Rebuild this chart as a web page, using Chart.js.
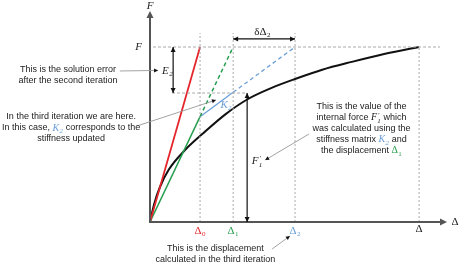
<!DOCTYPE html>
<html>
<head>
<meta charset="utf-8">
<script src="https://cdn.jsdelivr.net/npm/chart.js@4.4.0/dist/chart.umd.min.js"></script>
<style>body{margin:0;background:#fff}</style>
</head>
<body>
<canvas id="chart" width="474" height="267"></canvas>
<script>
// displacement levels on the x axis: Δ0, Δ1, Δ2, Δ
var deltaSubs = ['0', '1', '2', '']
var deltaValues = [0.186, 0.309, 0.539, 1.0]
var guideTops = [1.08, 1.08, 1.08, 1.0]
// force levels on the y axis
var forceF = 1.0
var forceF1 = 0.737

// load-displacement curve
var curveX = [0, 0.015, 0.037, 0.07, 0.1275, 0.2, 0.28, 0.361, 0.45, 0.539, 0.64, 0.75, 0.87, 1.0]
var curveY = [0, 0.10, 0.20, 0.30, 0.407, 0.51, 0.615, 0.70, 0.765, 0.817, 0.87, 0.915, 0.96, 1.0]

// stiffness lines
var k0Line = [[0, 0], [0.186, 1.0]]
var k1Solid = [[0, 0], [0.186, 0.602]]
var k1Dash = [[0.186, 0.602], [0.309, 1.0]]
var k2Solid = [[0.186, 0.602], [0.309, 0.741]]
var k2Dash = [[0.309, 0.741], [0.539, 1.0]]

// double headed dimension arrows
var dimArrows = [
  [[0.086, 1.0], [0.086, 0.737]],
  [[0.361, 0.737], [0.361, 0]],
  [[0.309, 1.046], [0.539, 1.046]]
]
// thin callout arrows (head at second point)
var callouts = [
  [[-0.112, 0.863], [0.030, 0.866]],
  [[-0.048, 0.549], [0.245, 0.697]],
  [[0.591, 0.503], [0.428, 0.354]],
  [[0.454, -0.154], [0.520, -0.08]]
]

var RED = 'rgb(228,38,44)'
var GREEN = 'rgb(38,158,80)'
var BLUE = 'rgb(108,160,216)'
var GUIDE = '#aaa'

var K2 = {b: 'K', s: '2', c: BLUE, it: true}
var D1 = {b: 'Δ', s: '1', c: GREEN}
var F1p = {b: 'F', s: '1', p: true, c: '#222', it: true}

var notes = [
  {x: -0.305, y: 0.874, lines: [['This is the solution error'], ['after the second iteration']]},
  {x: -0.293, y: 0.6, lines: [['In the third iteration we are here.'], ['In this case, ', K2, ' corresponds to the'], ['stiffness updated']]},
  {x: 0.786, y: 0.658, lines: [['This is the value of the'], ['internal force ', F1p, ' which'], ['was calculated using the'], ['stiffness matrix ', K2, ' and'], ['the displacement ', D1]]},
  {x: 0.243, y: -0.149, lines: [['This is the displacement'], ['calculated in the third iteration']]}
]
var mathLabels = [
  {x: 0.045, y: 0.863, m: {b: 'E', s: '2', c: '#222', it: true}, align: 'left'},
  {x: 0.283, y: 0.669, m: K2, align: 'center'},
  {x: 0.398, y: 0.346, m: F1p, align: 'center'},
  {x: -0.03, y: forceF, m: {b: 'F', s: '', c: '#222', it: true}, align: 'right'},
  {x: 0, y: 1.234, m: {b: 'F', s: '', c: '#222', it: true}, align: 'center'},
  {x: 1.12, y: 0, m: {b: 'Δ', s: '', c: '#222'}, align: 'left'},
  {x: 0.418, y: 1.086, m: {b: 'δΔ', s: '2', c: '#222'}, align: 'center'}
]

var BODY = '9px "Liberation Sans"'
var SERIF = '"Liberation Serif"'

function pts(arr) {
  return arr.map(function (p) { return {x: p[0], y: p[1]} })
}

function lineSet(data, color, width, dash) {
  return {data: pts(data), showLine: true, borderColor: color, borderWidth: width,
    borderDash: dash || [], pointRadius: 0, fill: false, tension: 0}
}

var datasets = []
// dotted guides
deltaValues.forEach(function (v, i) {
  datasets.push(lineSet([[v, 0], [v, guideTops[i]]], GUIDE, 1, [2, 2]))
})
datasets.push(lineSet([[-0.026, forceF], [1.078, forceF]], GUIDE, 1, [3, 2]))
datasets.push(lineSet([[0.082, forceF1], [0.361, forceF1]], GUIDE, 1, [3, 2]))
// stiffness lines
datasets.push(lineSet(k0Line, RED, 1.8))
datasets.push(lineSet(k1Solid, GREEN, 1.5))
datasets.push(lineSet(k1Dash, GREEN, 1.5, [4, 3]))
datasets.push(lineSet(k2Solid, BLUE, 1.3))
datasets.push(lineSet(k2Dash, BLUE, 1.3, [4, 3]))
// curve
datasets.push({
  data: curveX.map(function (x, i) { return {x: x, y: curveY[i]} }),
  showLine: true, borderColor: '#111', borderWidth: 2, pointRadius: 0,
  cubicInterpolationMode: 'monotone', fill: false
})

function mathWidth(ctx, m, size) {
  ctx.font = (m.it ? 'italic ' : '') + size + 'px ' + SERIF
  var w = ctx.measureText(m.b).width
  ctx.font = 'italic ' + Math.round(size * 0.68) + 'px ' + SERIF
  var ws = m.s ? ctx.measureText(m.s).width : 0
  var wp = m.p ? ctx.measureText('\'').width : 0
  return w + Math.max(ws, wp) + (m.s ? 0.5 : 0)
}

function drawMath(ctx, m, x, y, size) {
  ctx.fillStyle = m.c
  ctx.textAlign = 'left'
  ctx.textBaseline = 'middle'
  ctx.font = (m.it ? 'italic ' : '') + size + 'px ' + SERIF
  ctx.fillText(m.b, x, y)
  var w = ctx.measureText(m.b).width
  ctx.font = (m.it ? 'italic ' : '') + Math.round(size * 0.68) + 'px ' + SERIF
  if (m.s) ctx.fillText(m.s, x + w + 0.3, y + size * 0.3)
  if (m.p) ctx.fillText('\'', x + w + 0.8, y - size * 0.3)
}

function segWidth(ctx, seg) {
  if (typeof seg === 'string') {
    ctx.font = BODY
    return ctx.measureText(seg).width
  }
  return mathWidth(ctx, seg, 10)
}

function arrowHead(ctx, x1, y1, x2, y2, len, half) {
  var a = Math.atan2(y2 - y1, x2 - x1)
  ctx.beginPath()
  ctx.moveTo(x2, y2)
  ctx.lineTo(x2 - len * Math.cos(a) + half * Math.sin(a), y2 - len * Math.sin(a) - half * Math.cos(a))
  ctx.lineTo(x2 - len * Math.cos(a) - half * Math.sin(a), y2 - len * Math.sin(a) + half * Math.cos(a))
  ctx.closePath()
  ctx.fill()
}

var annotate = {
  id: 'annotate',
  afterDraw: function (chart) {
    var ctx = chart.ctx
    var xs = chart.scales.x, ys = chart.scales.y
    var px = function (v) { return xs.getPixelForValue(v) }
    var py = function (v) { return ys.getPixelForValue(v) }
    ctx.save()

    // axes
    ctx.strokeStyle = '#555'
    ctx.fillStyle = '#555'
    ctx.lineWidth = 2
    ctx.beginPath()
    ctx.moveTo(px(0), py(1.2) + 3)
    ctx.lineTo(px(0), py(0))
    ctx.lineTo(px(1.1) - 3, py(0))
    ctx.stroke()
    arrowHead(ctx, px(0), py(0), px(0), py(1.2) - 1, 7, 3.5)
    arrowHead(ctx, px(0), py(0), px(1.1) + 1, py(0), 7, 3.5)

    // dimension arrows
    ctx.strokeStyle = '#111'
    ctx.fillStyle = '#111'
    ctx.lineWidth = 1.2
    dimArrows.forEach(function (a) {
      var x1 = px(a[0][0]), y1 = py(a[0][1]), x2 = px(a[1][0]), y2 = py(a[1][1])
      ctx.beginPath()
      ctx.moveTo(x1, y1)
      ctx.lineTo(x2, y2)
      ctx.stroke()
      arrowHead(ctx, x1, y1, x2, y2, 5, 2.5)
      arrowHead(ctx, x2, y2, x1, y1, 5, 2.5)
    })

    // callouts
    callouts.forEach(function (a) {
      var x1 = px(a[0][0]), y1 = py(a[0][1]), x2 = px(a[1][0]), y2 = py(a[1][1])
      ctx.strokeStyle = '#999'
      ctx.lineWidth = 0.9
      ctx.beginPath()
      ctx.moveTo(x1, y1)
      ctx.lineTo(x2, y2)
      ctx.stroke()
      ctx.fillStyle = '#111'
      arrowHead(ctx, x1, y1, x2, y2, 4, 2)
    })

    // tick labels under the x axis
    deltaValues.forEach(function (v, i) {
      var m = {b: 'Δ', s: deltaSubs[i], c: [RED, GREEN, BLUE, '#222'][i]}
      var w = mathWidth(ctx, m, 11)
      drawMath(ctx, m, px(v) - w / 2, py(i === 3 ? -0.04 : -0.051), 11)
    })

    // math labels
    mathLabels.forEach(function (l) {
      var w = mathWidth(ctx, l.m, 11)
      var x = px(l.x)
      if (l.align === 'center') x -= w / 2
      if (l.align === 'right') x -= w
      drawMath(ctx, l.m, x, py(l.y), 11)
    })

    // text notes
    notes.forEach(function (n) {
      n.lines.forEach(function (line, li) {
        var total = 0
        line.forEach(function (s) { total += segWidth(ctx, s) })
        var x = px(n.x) - total / 2
        var y = py(n.y) + li * 11
        line.forEach(function (s) {
          if (typeof s === 'string') {
            ctx.font = BODY
            ctx.fillStyle = '#222'
            ctx.textAlign = 'left'
            ctx.textBaseline = 'middle'
            ctx.fillText(s, x, y)
          } else {
            drawMath(ctx, s, x, y, 10)
          }
          x += segWidth(ctx, s)
        })
      })
    })
    ctx.restore()
  }
}

var chart = new Chart(document.getElementById('chart').getContext('2d'), {
  type: 'scatter',
  data: {datasets: datasets},
  options: {
    responsive: false,
    animation: false,
    layout: {padding: {left: 150, right: 28, top: 12, bottom: 45}},
    plugins: {legend: {display: false}, tooltip: {enabled: false}},
    scales: {
      x: {type: 'linear', min: 0, max: 1.1, display: false},
      y: {type: 'linear', min: 0, max: 1.2, display: false}
    }
  },
  plugins: [annotate]
})
</script>
</body>
</html>
